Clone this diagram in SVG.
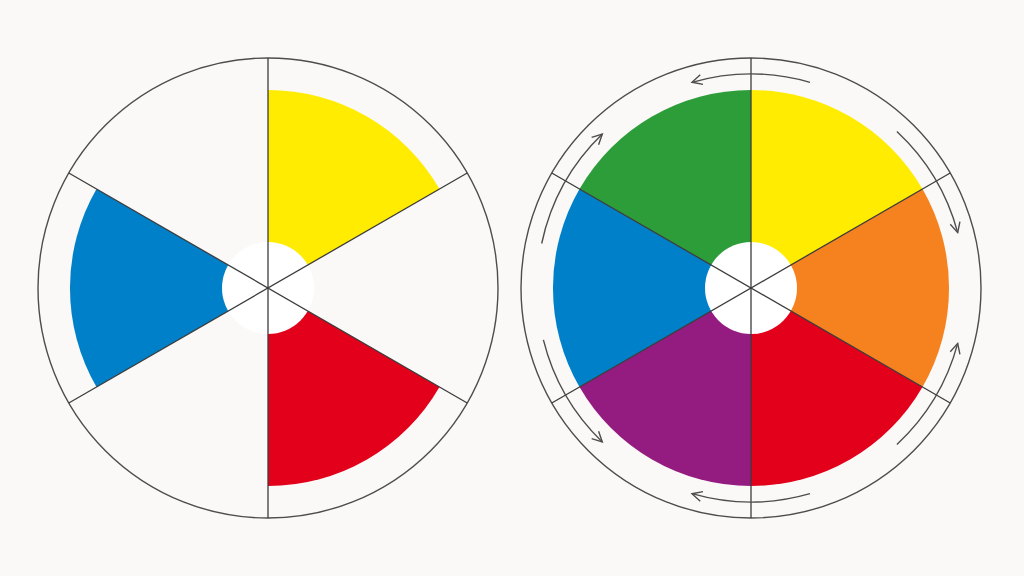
<svg xmlns="http://www.w3.org/2000/svg" width="1024" height="576" viewBox="0 0 1024 576">
  <style>
    .ring { fill: none; stroke: #4d4d4d; stroke-width: 1.4; }
    .spoke { stroke: #3c3c3c; stroke-width: 1.3; fill: none; }
    .hub { fill: #ffffff; }
    .arr { fill: none; stroke: #4d4d4d; stroke-width: 1.4; marker-end: url(#head); }
    .yellow { fill: #ffec00; }
    .orange { fill: #f6821f; }
    .red { fill: #e2001a; }
    .purple { fill: #941b80; }
    .blue { fill: #0080c8; }
    .green { fill: #2d9d3a; }
  </style>
  <defs>
    <marker id="head" markerUnits="userSpaceOnUse" markerWidth="14" markerHeight="14" refX="10" refY="5" orient="auto" overflow="visible">
      <path d="M0,0 L10,5 L0,10" fill="none" stroke="#4d4d4d" stroke-width="1.4"/>
    </marker>
  </defs>
  <rect width="1024" height="576" fill="#fbf9f8"/>

  <g id="wheel-primary">
    <circle class="ring" cx="268" cy="288" r="230"/>
    <path class="yellow" d="M268,288 L268,90 A198,198 0 0 1 439.5,189 Z"/>
    <path class="blue" d="M268,288 L96.5,189 A198,198 0 0 0 96.5,387 Z"/>
    <path class="red" d="M268,288 L439.5,387 A198,198 0 0 1 268,486 Z"/>
    <circle class="hub" cx="268" cy="288" r="46"/>
    <line class="spoke" x1="268" y1="58" x2="268" y2="518"/>
    <line class="spoke" x1="467.2" y1="173" x2="68.8" y2="403"/>
    <line class="spoke" x1="68.8" y1="173" x2="467.2" y2="403"/>
  </g>

  <g id="wheel-full">
    <circle class="ring" cx="751" cy="288" r="230"/>
    <path class="yellow" d="M751,288 L751,90 A198,198 0 0 1 922.5,189 Z"/>
    <path class="orange" d="M751,288 L922.5,189 A198,198 0 0 1 922.5,387 Z"/>
    <path class="red" d="M751,288 L922.5,387 A198,198 0 0 1 751,486 Z"/>
    <path class="purple" d="M751,288 L751,486 A198,198 0 0 1 579.5,387 Z"/>
    <path class="blue" d="M751,288 L579.5,387 A198,198 0 0 1 579.5,189 Z"/>
    <path class="green" d="M751,288 L579.5,189 A198,198 0 0 1 751,90 Z"/>
    <circle class="hub" cx="751" cy="288" r="46"/>
    <line class="spoke" x1="751" y1="58" x2="751" y2="518"/>
    <line class="spoke" x1="950.2" y1="173" x2="551.8" y2="403"/>
    <line class="spoke" x1="551.8" y1="173" x2="950.2" y2="403"/>
  </g>

  <g id="connectors">
    <path class="arr" d="M810,82.3 A214,214 0 0 0 692,82.3"/>
    <path class="arr" d="M896.9,131.5 A214,214 0 0 1 957.7,232.6"/>
    <path class="arr" d="M896.9,444.5 A214,214 0 0 0 957.7,343.4"/>
    <path class="arr" d="M810,493.7 A214,214 0 0 1 692,493.7"/>
    <path class="arr" d="M543.4,339.8 A214,214 0 0 0 602.3,441.9"/>
    <path class="arr" d="M541.7,243.5 A214,214 0 0 1 602.3,134.1"/>
  </g>
</svg>
